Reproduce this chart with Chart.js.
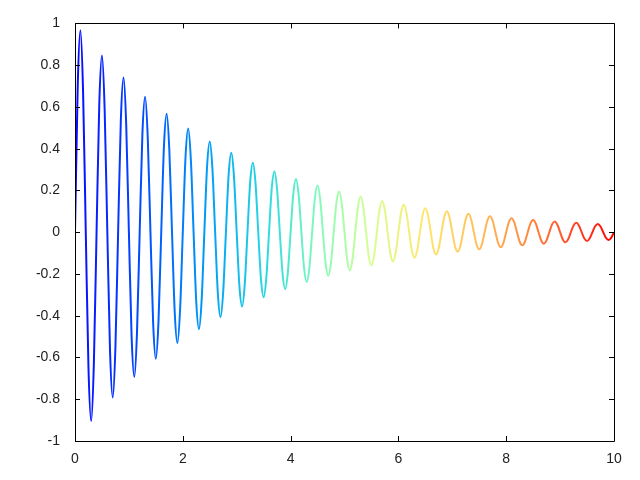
<!DOCTYPE html>
<html>
<head>
<meta charset="utf-8">
<script src="https://cdn.jsdelivr.net/npm/chart.js@4/dist/chart.umd.min.js"></script>
<style>
html,body{margin:0;padding:0;background:#fff;}
#wrap{width:640px;height:480px;}
</style>
</head>
<body>
<div id="wrap"><canvas id="c" width="640" height="480"></canvas></div>
<script>
const xValues = [
0,0.05,0.1,0.15,0.2,0.25,0.3,0.35,0.4,0.45,0.5,0.55,0.6,0.65,0.7,0.75,0.8,0.85,0.9,0.95,
1,1.05,1.1,1.15,1.2,1.25,1.3,1.35,1.4,1.45,1.5,1.55,1.6,1.65,1.7,1.75,1.8,1.85,1.9,1.95,
2,2.05,2.1,2.15,2.2,2.25,2.3,2.35,2.4,2.45,2.5,2.55,2.6,2.65,2.7,2.75,2.8,2.85,2.9,2.95,
3,3.05,3.1,3.15,3.2,3.25,3.3,3.35,3.4,3.45,3.5,3.55,3.6,3.65,3.7,3.75,3.8,3.85,3.9,3.95,
4,4.05,4.1,4.15,4.2,4.25,4.3,4.35,4.4,4.45,4.5,4.55,4.6,4.65,4.7,4.75,4.8,4.85,4.9,4.95,
5,5.05,5.1,5.15,5.2,5.25,5.3,5.35,5.4,5.45,5.5,5.55,5.6,5.65,5.7,5.75,5.8,5.85,5.9,5.95,
6,6.05,6.1,6.15,6.2,6.25,6.3,6.35,6.4,6.45,6.5,6.55,6.6,6.65,6.7,6.75,6.8,6.85,6.9,6.95,
7,7.05,7.1,7.15,7.2,7.25,7.3,7.35,7.4,7.45,7.5,7.55,7.6,7.65,7.7,7.75,7.8,7.85,7.9,7.95,
8,8.05,8.1,8.15,8.2,8.25,8.3,8.35,8.4,8.45,8.5,8.55,8.6,8.65,8.7,8.75,8.8,8.85,8.9,8.95,
9,9.05,9.1,9.15,9.2,9.25,9.3,9.35,9.4,9.45,9.5,9.55,9.6,9.65,9.7,9.75,9.8,9.85,9.9,9.95,
10
];
const yValues = [
0,0.6954,0.9672,0.6726, 0,-0.6506,-0.9048,-0.6293, 0,0.6086,0.8465,0.5887, 0,-0.5694,-0.7919,-0.5507, 0,0.5327,0.7408,0.5152,
0,-0.4983,-0.6930,-0.4820, 0,0.4662,0.6483,0.4509, 0,-0.4361,-0.6065,-0.4218, 0,0.4080,0.5674,0.3946, 0,-0.3817,-0.5308,-0.3692,
0,0.3571,0.4966,0.3454, 0,-0.3340,-0.4646,-0.3231, 0,0.3125,0.4346,0.3022, 0,-0.2923,-0.4066,-0.2828, 0,0.2735,0.3803,0.2645,
0,-0.2559,-0.3558,-0.2475, 0,0.2394,0.3329,0.2315, 0,-0.2239,-0.3114,-0.2166, 0,0.2095,0.2913,0.2026, 0,-0.1960,-0.2725,-0.1896,
0,0.1833,0.2550,0.1773, 0,-0.1715,-0.2385,-0.1659, 0,0.1604,0.2231,0.1552, 0,-0.1501,-0.2088,-0.1452, 0,0.1404,0.1953,0.1358,
0,-0.1314,-0.1827,-0.1271, 0,0.1229,0.1709,0.1189, 0,-0.1150,-0.1599,-0.1112, 0,0.1076,0.1496,0.1040, 0,-0.1006,-0.1400,-0.0973,
0,0.0941,0.1309,0.0911, 0,-0.0881,-0.1225,-0.0852, 0,0.0824,0.1146,0.0797, 0,-0.0771,-0.1072,-0.0746, 0,0.0721,0.1003,0.0698,
0,-0.0675,-0.0938,-0.0653, 0,0.0631,0.0878,0.0611, 0,-0.0591,-0.0821,-0.0571, 0,0.0553,0.0768,0.0535, 0,-0.0517,-0.0719,-0.0500,
0,0.0484,0.0672,0.0468, 0,-0.0453,-0.0629,-0.0438, 0,0.0423,0.0588,0.0410, 0,-0.0396,-0.0550,-0.0383, 0,0.0371,0.0515,0.0358,
0,-0.0347,-0.0482,-0.0335, 0,0.0324,0.0450,0.0314, 0,-0.0303,-0.0421,-0.0293, 0,0.0284,0.0394,0.0274, 0,-0.0265,-0.0369,-0.0257,
0
];
const xTicks = [0,2,4,6,8,10];
const yTicks = [-1,-0.8,-0.6,-0.4,-0.2,0,0.2,0.4,0.6,0.8,1];
const xTickLabels = ['0','2','4','6','8','10'];
const yTickLabels = ['-1','-0.8','-0.6','-0.4','-0.2','0','0.2','0.4','0.6','0.8','1'];

const points = xValues.map((x, i) => ({x: x, y: yValues[i]}));

const gradientStops = [
  [0.00, 'rgb(10,10,255)'],
  [0.15, 'rgb(0,90,255)'],
  [0.25, 'rgb(0,160,245)'],
  [0.35, 'rgb(40,215,225)'],
  [0.45, 'rgb(130,250,190)'],
  [0.55, 'rgb(215,255,145)'],
  [0.65, 'rgb(255,230,110)'],
  [0.75, 'rgb(255,190,90)'],
  [0.85, 'rgb(255,130,60)'],
  [0.95, 'rgb(255,50,30)'],
  [1.00, 'rgb(255,0,0)']
];
let cachedGrad = null, cachedKey = '';
function lineGradient(ctx) {
  const chart = ctx.chart;
  const area = chart.chartArea;
  if (!area) return 'blue';
  const key = area.left + ':' + area.right;
  if (cachedGrad && key === cachedKey) return cachedGrad;
  const g = chart.ctx.createLinearGradient(area.left, 0, area.right, 0);
  gradientStops.forEach(s => g.addColorStop(s[0], s[1]));
  cachedGrad = g; cachedKey = key;
  return g;
}

const framePlugin = {
  id: 'frame',
  afterDraw(chart) {
    const {ctx, chartArea: a, scales} = chart;
    const L = 5;
    ctx.save();
    ctx.strokeStyle = '#000';
    ctx.lineWidth = 1;
    ctx.beginPath();
    ctx.rect(Math.round(a.left) + 0.5, Math.round(a.top) + 0.5, Math.round(a.right - a.left), Math.round(a.bottom - a.top));
    xTicks.forEach(v => {
      const px = Math.round(scales.x.getPixelForValue(v)) + 0.5;
      ctx.moveTo(px, a.bottom); ctx.lineTo(px, a.bottom - L);
      ctx.moveTo(px, a.top); ctx.lineTo(px, a.top + L);
    });
    yTicks.forEach(v => {
      const py = Math.round(scales.y.getPixelForValue(v)) + 0.5;
      ctx.moveTo(a.left, py); ctx.lineTo(a.left + L, py);
      ctx.moveTo(a.right, py); ctx.lineTo(a.right - L, py);
    });
    ctx.stroke();
    ctx.restore();
  }
};

const tickFont = {family: '"Liberation Sans", Arial, sans-serif', size: 14};

new Chart(document.getElementById('c'), {
  type: 'line',
  data: {
    datasets: [{
      data: points,
      borderColor: lineGradient,
      borderWidth: 2,
      pointRadius: 0,
      fill: false,
      cubicInterpolationMode: 'monotone'
    }]
  },
  options: {
    responsive: false,
    animation: false,
    devicePixelRatio: 1,
    layout: {padding: {left: 0, right: 26, top: 20, bottom: 0}},
    plugins: {legend: {display: false}, tooltip: {enabled: false}},
    scales: {
      x: {
        type: 'linear', min: 0, max: 10,
        grid: {display: false, drawTicks: false},
        border: {display: false},
        afterBuildTicks: s => { s.ticks = xTicks.map(v => ({value: v})); },
        afterFit: s => { s.height = 39; },
        ticks: {
          color: '#222', font: tickFont, padding: 10, maxRotation: 0, autoSkip: false,
          callback: (v) => xTickLabels[xTicks.indexOf(v)]
        }
      },
      y: {
        type: 'linear', min: -1, max: 1,
        grid: {display: false, drawTicks: false},
        border: {display: false},
        afterBuildTicks: s => { s.ticks = yTicks.map(v => ({value: v})); },
        afterFit: s => { s.width = 75; },
        ticks: {
          color: '#222', font: tickFont, padding: 15, autoSkip: false,
          callback: (v) => yTickLabels[yTicks.findIndex(t => Math.abs(t - v) < 1e-9)]
        }
      }
    }
  },
  plugins: [framePlugin]
});
</script>
</body>
</html>
